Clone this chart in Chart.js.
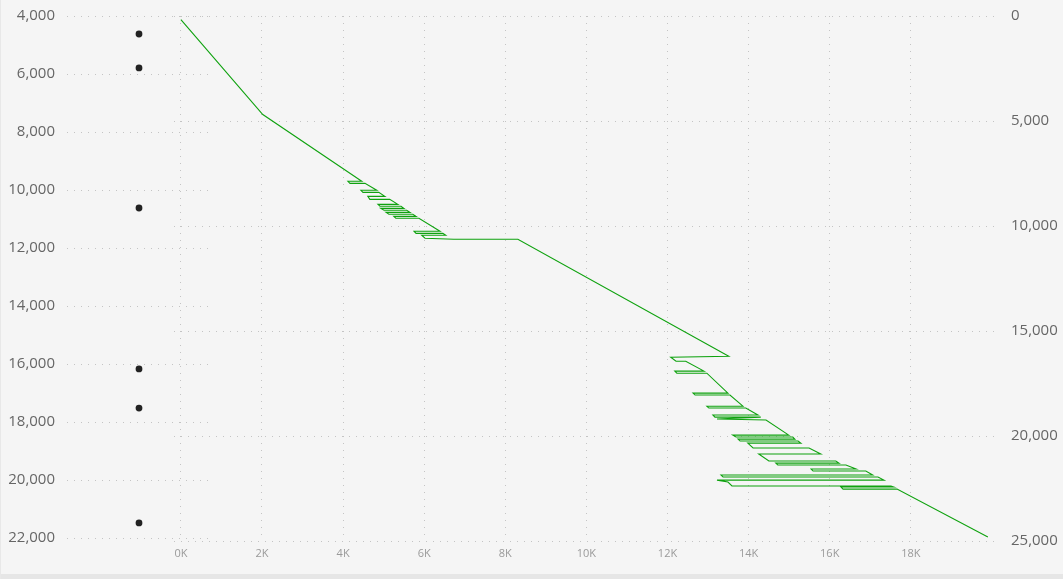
<!DOCTYPE html>
<html>
<head>
<meta charset="utf-8">
<script src="https://cdn.jsdelivr.net/npm/chart.js@4"></script>
<style>
  html, body { margin: 0; padding: 0; background: #f5f5f5; }
  #wrap { position: relative; width: 1063px; height: 579px; overflow: hidden; border-left: 1px solid #e8e8e8; box-sizing: border-box; }
  #wrap canvas { position: absolute; left: 0; top: 0; }
  #foot { position: absolute; left: 0; bottom: 0; width: 1063px; height: 5px; background: #e6e6e6; }
</style>
</head>
<body>
<div id="wrap">
  <canvas id="dots" width="1063" height="579"></canvas>
  <canvas id="path" width="1063" height="579"></canvas>
  <div id="foot"></div>
</div>
<script>
// left visual: single column of markers
const dotValues = [4620, 5790, 10620, 16170, 17520, 21480];
const leftTicks = [4000, 6000, 8000, 10000, 12000, 14000, 16000, 18000, 20000, 22000];

// right visual: traced path (x, y on right axis)
const pathX = [0, 2020, 4460, 4120, 4170, 4540, 4830, 4440, 4490, 4880,
  5030, 4610, 4660, 5150, 5350, 4860, 4910, 5430, 5500, 4930,
  5010, 5570, 5650, 5060, 5130, 5720, 5800, 5250, 5300, 5870,
  6390, 5750, 5800, 6460, 6530, 5940, 6020, 6730, 8310, 13510,
  12080, 12210, 12450, 12900, 12180, 12230, 12970, 13490, 12630, 12680,
  13540, 13860, 12970, 13020, 13930, 14230, 13120, 13170, 14300, 13220,
  14430, 14990, 13610, 13690, 15090, 15140, 13740, 13790, 15220, 15290,
  13980, 14110, 15490, 15780, 14250, 14500, 16150, 16230, 14670, 14720,
  16400, 16650, 15540, 15590, 16890, 17060, 13320, 13370, 17190, 17340,
  13220, 13490, 13590, 17510, 17580, 16280, 16330, 17660, 19900];
const pathY = [170, 4690, 7870, 7870, 7970, 7970, 8300, 8300, 8400, 8400,
  8590, 8590, 8730, 8730, 8970, 8970, 9060, 9060, 9160, 9160,
  9250, 9250, 9350, 9350, 9440, 9440, 9540, 9540, 9630, 9630,
  10250, 10250, 10350, 10350, 10440, 10440, 10580, 10630, 10630, 16200,
  16250, 16440, 16440, 16910, 16910, 17010, 17010, 17960, 17960, 18050,
  18050, 18580, 18580, 18670, 18670, 19000, 19000, 19100, 19100, 19190,
  19240, 19960, 19960, 20050, 20050, 20150, 20150, 20240, 20240, 20340,
  20340, 20570, 20570, 20860, 20860, 21190, 21190, 21290, 21290, 21380,
  21380, 21570, 21570, 21670, 21670, 21860, 21860, 21950, 21950, 22100,
  22100, 22190, 22380, 22380, 22430, 22430, 22530, 22530, 24810];
const xTicks = [0, 2000, 4000, 6000, 8000, 10000, 12000, 14000, 16000, 18000];
const rightTicks = [0, 5000, 10000, 15000, 20000, 25000];

const FONT = "'Segoe UI', 'Open Sans', sans-serif";
const gridStyle = { color: '#c4c4c4', lineWidth: 1, drawTicks: false };
const borderStyle = { display: false, dash: [1, 6] };
const fmt = v => v.toLocaleString('en-US');

// pin the vertical axes to a fixed width and drop the label overflow padding
const fixY = s => { s.width = 66; s.paddingTop = 0; s.paddingBottom = 0; };

Chart.defaults.animation = false;
Chart.defaults.responsive = false;
Chart.defaults.devicePixelRatio = 1;
Chart.defaults.plugins.legend.display = false;
Chart.defaults.plugins.tooltip.enabled = false;

new Chart(document.getElementById('dots'), {
  type: 'scatter',
  data: {
    datasets: [{
      data: dotValues.map(v => ({ x: 0, y: v })),
      backgroundColor: '#222222',
      borderColor: '#222222',
      pointRadius: 3.4,
      borderWidth: 0
    }]
  },
  options: {
    layout: { padding: { left: 0, top: 16, right: 853, bottom: 41 } },
    scales: {
      x: { display: false, min: -1, max: 1 },
      y: {
        reverse: true,
        min: leftTicks[0],
        max: leftTicks[leftTicks.length - 1],
        afterBuildTicks: s => { s.ticks = leftTicks.map(v => ({ value: v })); },
        afterFit: fixY,
        border: borderStyle,
        grid: gridStyle,
        ticks: {
          padding: 12,
          color: '#666666',
          font: { family: FONT, size: 15 },
          callback: v => fmt(v)
        }
      }
    }
  }
});

new Chart(document.getElementById('path'), {
  type: 'scatter',
  data: {
    datasets: [{
      data: pathX.map((x, i) => ({ x: x, y: pathY[i] })),
      showLine: true,
      borderColor: '#0fa20f',
      borderWidth: 1.1,
      pointRadius: 0,
      fill: false,
      tension: 0
    }]
  },
  options: {
    layout: { padding: { left: 173, top: 16, right: 0, bottom: 0 } },
    scales: {
      x: {
        type: 'linear',
        min: -170,
        max: 20150,
        afterBuildTicks: s => { s.ticks = xTicks.map(v => ({ value: v })); },
        afterFit: s => { s.height = 38; s.paddingLeft = 0; s.paddingRight = 0; },
        border: borderStyle,
        grid: gridStyle,
        ticks: {
          padding: 6,
          color: '#9a9a9a',
          font: { family: FONT, size: 11 },
          maxRotation: 0,
          callback: v => (v / 1000) + 'K'
        }
      },
      y: {
        position: 'right',
        reverse: true,
        min: 0,
        max: 25000,
        afterBuildTicks: s => { s.ticks = rightTicks.map(v => ({ value: v })); },
        afterFit: fixY,
        border: borderStyle,
        grid: gridStyle,
        ticks: {
          padding: 13,
          color: '#666666',
          font: { family: FONT, size: 15 },
          callback: v => fmt(v)
        }
      }
    }
  }
});
</script>
</body>
</html>
